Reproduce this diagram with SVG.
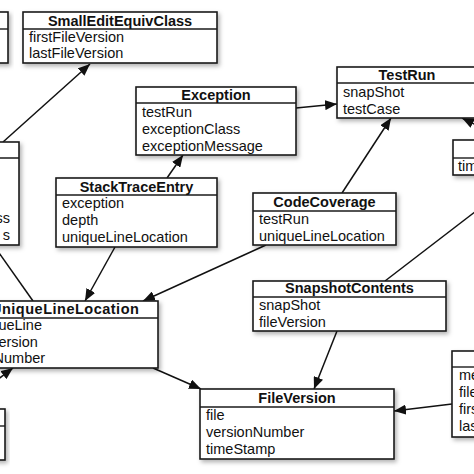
<svg xmlns="http://www.w3.org/2000/svg" width="474" height="474" viewBox="0 0 474 474">
<defs>
<filter id="sh" x="-10%" y="-10%" width="130%" height="140%">
<feDropShadow dx="2" dy="2.5" stdDeviation="2" flood-color="#000" flood-opacity="0.3"/>
</filter>
<marker id="ah" viewBox="0 0 12 10" refX="12" refY="5" markerWidth="12" markerHeight="10" markerUnits="userSpaceOnUse" orient="auto">
<path d="M0,0 L12,5 L0,10 Z" fill="#111"/>
</marker>
<style>
.box{fill:#fff;stroke:#1a1a1a;stroke-width:1.6;filter:url(#sh)}
.sep{stroke:#1a1a1a;stroke-width:1.4}
.t{font-family:"Liberation Sans",Arial,sans-serif;font-size:14.5px;font-weight:bold;fill:#111;text-anchor:middle}
.a{font-family:"Liberation Sans",Arial,sans-serif;font-size:14.5px;fill:#111}
.c{fill:none;stroke:#111;stroke-width:1.5}
.ar{marker-end:url(#ah)}
</style>
</defs>
<rect width="474" height="474" fill="#fff"/>

<g id="connectors">
<line class="c ar" x1="3" y1="142" x2="90" y2="64"/>
<line class="c ar" x1="296" y1="108" x2="337" y2="104"/>
<line class="c ar" x1="167" y1="178" x2="183" y2="155"/>
<line class="c ar" x1="342" y1="193" x2="391" y2="118"/>
<line class="c ar" x1="115" y1="247" x2="85" y2="301"/>
<line class="c ar" x1="266" y1="245" x2="143" y2="301"/>
<line class="c" x1="-3" y1="250" x2="33" y2="301"/>
<line class="c ar" x1="153" y1="368" x2="201" y2="389"/>
<line class="c ar" x1="337" y1="331" x2="314" y2="389"/>
<line class="c ar" x1="452" y1="404" x2="394" y2="411"/>
<line class="c ar" x1="-3" y1="380" x2="13" y2="368"/>
<line class="c" x1="385" y1="281" x2="480" y2="208"/>
<line class="c ar" x1="482" y1="128" x2="462" y2="118"/>
</g>

<g id="topLeftBox">
<rect class="box" x="-20" y="12" width="28" height="51"/>
<line class="sep" x1="-20" y1="29" x2="8" y2="29"/>
</g>

<g id="SmallEditEquivClass">
<rect class="box" x="23" y="12" width="194" height="51"/>
<line class="sep" x1="23" y1="29" x2="217" y2="29"/>
<text class="t" x="120" y="25.5">SmallEditEquivClass</text>
<text class="a" x="29" y="41.5">firstFileVersion</text>
<text class="a" x="29" y="58">lastFileVersion</text>
</g>

<g id="Exception">
<rect class="box" x="136" y="87" width="160" height="68"/>
<line class="sep" x1="136" y1="103" x2="296" y2="103"/>
<text class="t" x="216" y="100">Exception</text>
<text class="a" x="142" y="117">testRun</text>
<text class="a" x="142" y="134">exceptionClass</text>
<text class="a" x="142" y="150.5">exceptionMessage</text>
</g>

<g id="TestRun">
<rect class="box" x="337" y="67" width="141" height="51"/>
<line class="sep" x1="337" y1="83" x2="478" y2="83"/>
<text class="t" x="407" y="80">TestRun</text>
<text class="a" x="343" y="97">snapShot</text>
<text class="a" x="343" y="114">testCase</text>
</g>

<g id="timBox">
<rect class="box" x="453" y="140" width="30" height="35"/>
<line class="sep" x1="453" y1="158" x2="483" y2="158"/>
<text class="a" x="458" y="171">tim</text>
</g>

<g id="leftMidBox">
<rect class="box" x="-20" y="142" width="39" height="103"/>
<line class="sep" x1="-20" y1="158" x2="19" y2="158"/>
<text class="a" x="10" y="223" text-anchor="end">ss</text>
<text class="a" x="10" y="240" text-anchor="end">s</text>
</g>

<g id="StackTraceEntry">
<rect class="box" x="56" y="178" width="161" height="69"/>
<line class="sep" x1="56" y1="195" x2="217" y2="195"/>
<text class="t" x="136.5" y="192">StackTraceEntry</text>
<text class="a" x="62" y="208">exception</text>
<text class="a" x="62" y="225">depth</text>
<text class="a" x="62" y="242">uniqueLineLocation</text>
</g>

<g id="CodeCoverage">
<rect class="box" x="253" y="193" width="143" height="52"/>
<line class="sep" x1="253" y1="211" x2="396" y2="211"/>
<text class="t" x="324.5" y="207">CodeCoverage</text>
<text class="a" x="259" y="223.5">testRun</text>
<text class="a" x="259" y="241">uniqueLineLocation</text>
</g>

<g id="SnapshotContents">
<rect class="box" x="253" y="281" width="193" height="50"/>
<line class="sep" x1="253" y1="297" x2="446" y2="297"/>
<text class="t" x="349.5" y="293">SnapshotContents</text>
<text class="a" x="259" y="310">snapShot</text>
<text class="a" x="259" y="327">fileVersion</text>
</g>

<g id="UniqueLineLocation">
<rect class="box" x="-35" y="301" width="193" height="67"/>
<line class="sep" x1="-35" y1="318" x2="158" y2="318"/>
<text class="t" x="-9" y="313.5" style="text-anchor:start;letter-spacing:0.5px">UniqueLineLocation</text>
<text class="a" x="-29" y="329.5">uniqueLine</text>
<text class="a" x="-29" y="346.5">fileVersion</text>
<text class="a" x="-29" y="363">lineNumber</text>
</g>

<g id="bottomLeftBox">
<rect class="box" x="-20" y="409" width="25" height="51"/>
<line class="sep" x1="-20" y1="426" x2="5" y2="426"/>
</g>

<g id="FileVersion">
<rect class="box" x="200" y="389" width="194" height="70"/>
<line class="sep" x1="200" y1="407" x2="394" y2="407"/>
<text class="t" x="297" y="402.5">FileVersion</text>
<text class="a" x="206" y="420">file</text>
<text class="a" x="206" y="437">versionNumber</text>
<text class="a" x="206" y="454">timeStamp</text>
</g>

<g id="rightBottomBox">
<rect class="box" x="452" y="351" width="30" height="86"/>
<line class="sep" x1="452" y1="367" x2="482" y2="367"/>
<text class="a" x="459" y="380">me</text>
<text class="a" x="459" y="397">file</text>
<text class="a" x="459" y="414">firs</text>
<text class="a" x="459" y="431">las</text>
</g>
</svg>
